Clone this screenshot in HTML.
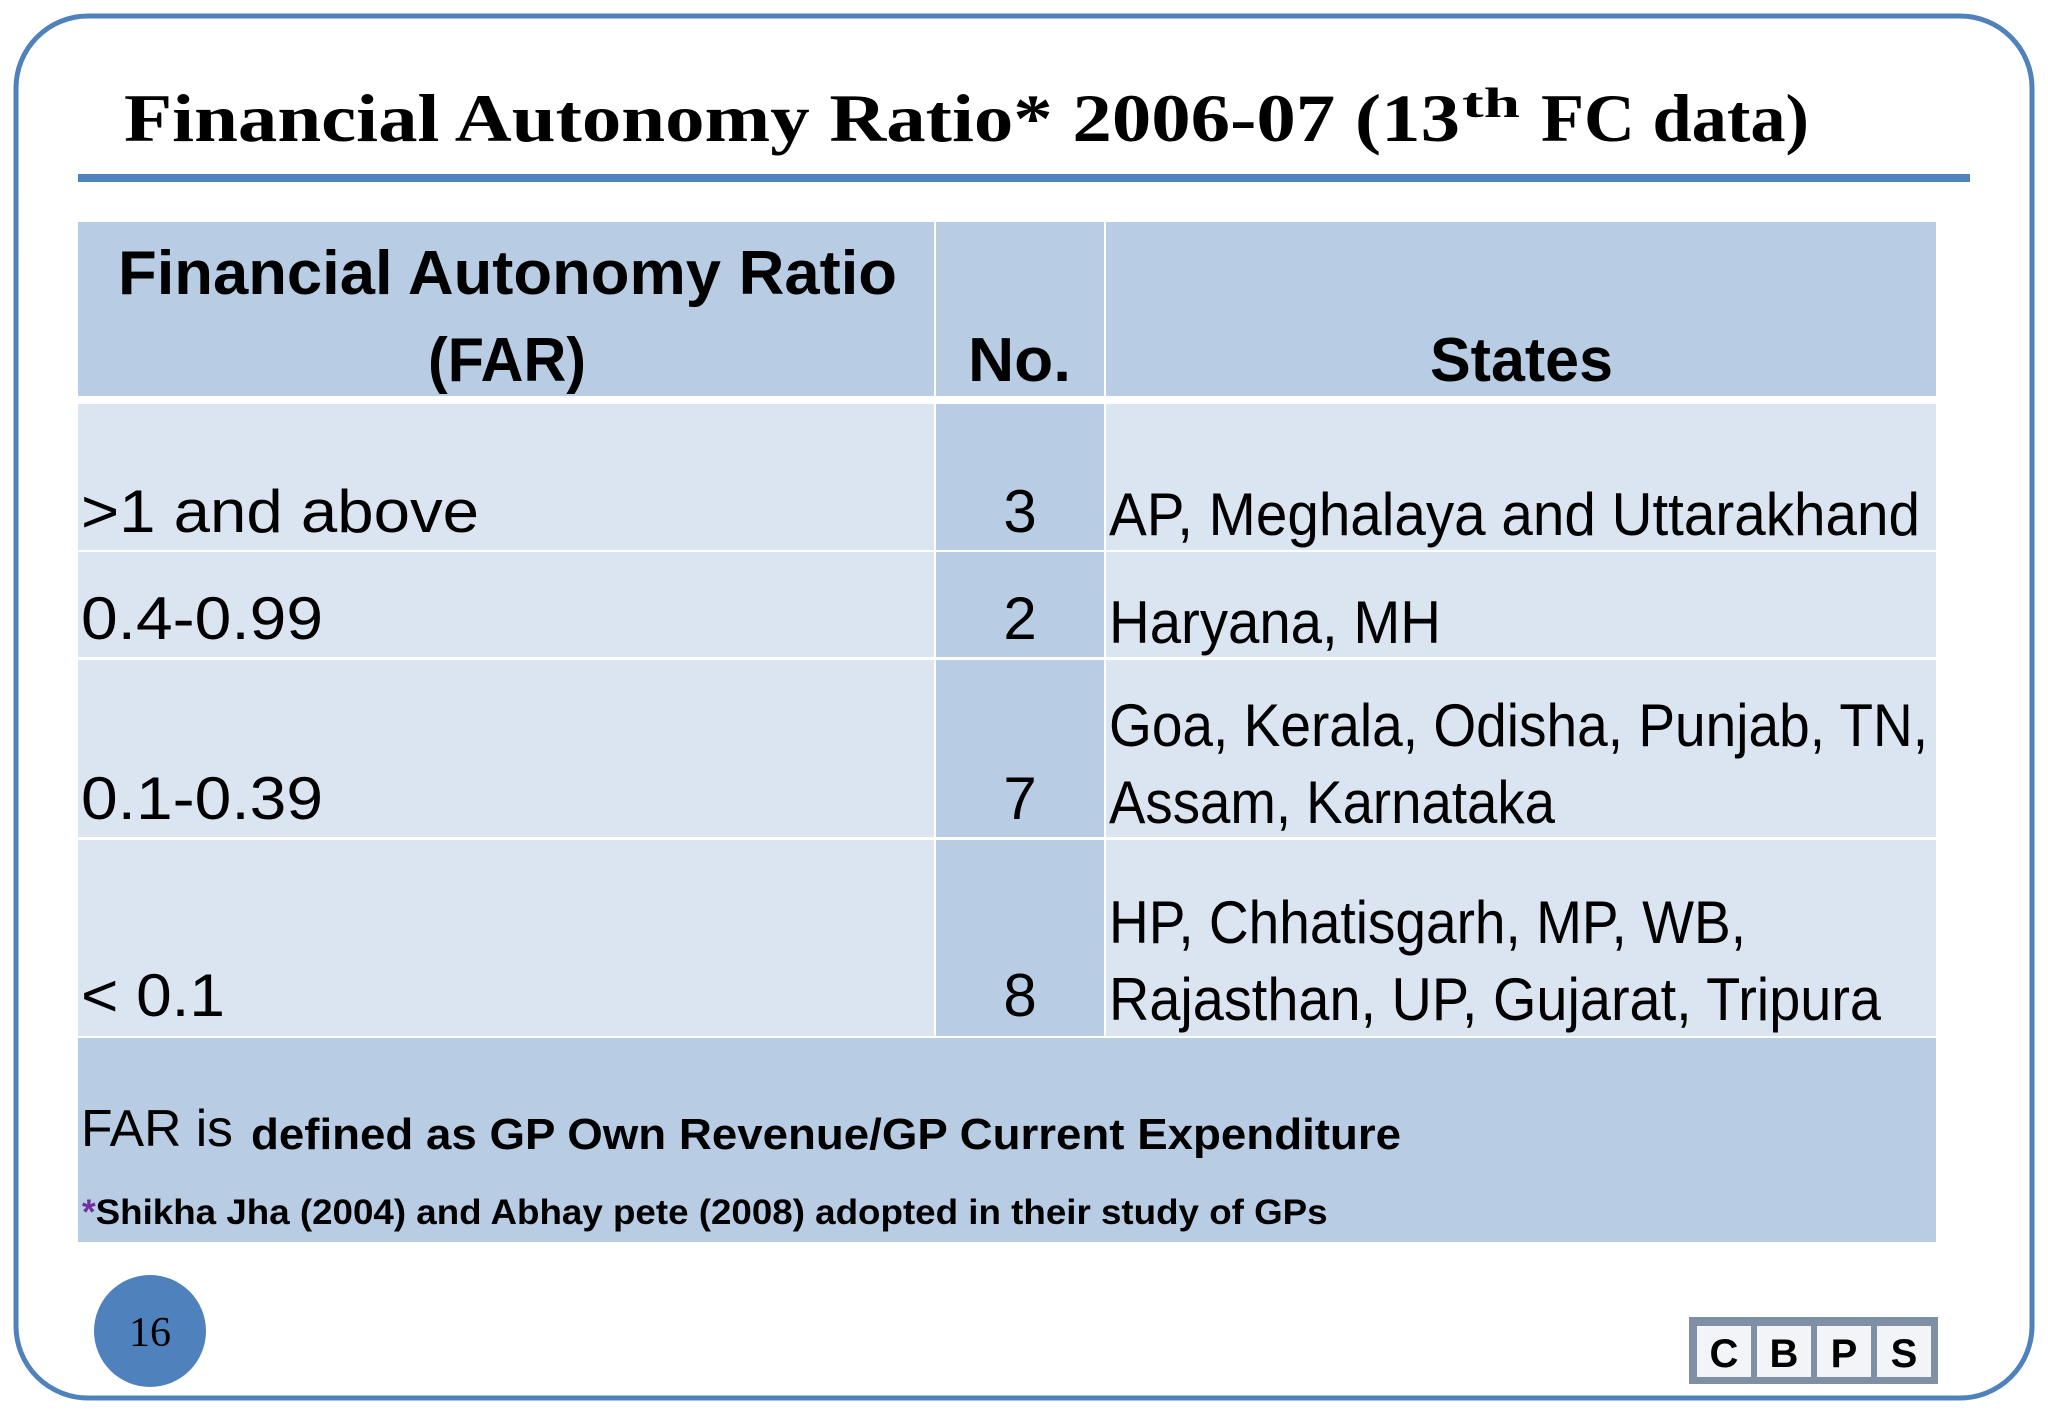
<!DOCTYPE html>
<html><head><meta charset="utf-8"><style>
html,body{margin:0;padding:0;background:#fff;}
svg{display:block;}
.s{font-family:"Liberation Sans",sans-serif;fill:#000;}
.r{font-family:"Liberation Serif",serif;fill:#000;}
</style></head><body>
<svg width="2048" height="1418" viewBox="0 0 2048 1418">
<rect x="16" y="16" width="2016" height="1382" rx="72" fill="#fff" stroke="#4f81bd" stroke-width="5"/>
<text class="r" y="141" font-size="68" font-weight="bold"><tspan x="124" textLength="1336" lengthAdjust="spacingAndGlyphs">Financial Autonomy Ratio*  2006-07 (13</tspan><tspan x="1462" y="117" font-size="42" textLength="58" lengthAdjust="spacingAndGlyphs">th</tspan><tspan x="1541" y="141" textLength="268" lengthAdjust="spacingAndGlyphs">FC data)</tspan></text>
<rect x="78" y="174" width="1892" height="8" fill="#4f81bd"/>
<g>
<rect x="78" y="222" width="856" height="174" fill="#b8cce4"/>
<rect x="936" y="222" width="168" height="174" fill="#b8cce4"/>
<rect x="1106" y="222" width="830" height="174" fill="#b8cce4"/>
<g fill="#dbe5f1">
<rect x="78" y="404" width="856" height="146"/><rect x="1106" y="404" width="830" height="146"/>
<rect x="78" y="552" width="856" height="105"/><rect x="1106" y="552" width="830" height="105"/>
<rect x="78" y="660" width="856" height="177"/><rect x="1106" y="660" width="830" height="177"/>
<rect x="78" y="840" width="856" height="196"/><rect x="1106" y="840" width="830" height="196"/>
</g>
<g fill="#b8cce4">
<rect x="936" y="404" width="168" height="146"/>
<rect x="936" y="552" width="168" height="105"/>
<rect x="936" y="660" width="168" height="177"/>
<rect x="936" y="840" width="168" height="196"/>
</g>
<rect x="78" y="1038" width="1858" height="204" fill="#b8cce4"/>
<text class="s" x="118" y="294" font-size="62" font-weight="bold" textLength="779" lengthAdjust="spacingAndGlyphs">Financial Autonomy Ratio</text>
<text class="s" x="428" y="381" font-size="62" font-weight="bold" textLength="158" lengthAdjust="spacingAndGlyphs">(FAR)</text>
<text class="s" x="968" y="381" font-size="62" font-weight="bold" textLength="103" lengthAdjust="spacingAndGlyphs">No.</text>
<text class="s" x="1430" y="381" font-size="62" font-weight="bold" textLength="183" lengthAdjust="spacingAndGlyphs">States</text>
<g class="s" font-size="60">
<text x="81" y="532" textLength="398" lengthAdjust="spacingAndGlyphs">&gt;1 and above</text>
<text x="1020" y="532" text-anchor="middle">3</text>
<text x="1109" y="535" textLength="811" lengthAdjust="spacingAndGlyphs">AP, Meghalaya and Uttarakhand</text>
<text x="81" y="639" textLength="242" lengthAdjust="spacingAndGlyphs">0.4-0.99</text>
<text x="1020" y="639" text-anchor="middle">2</text>
<text x="1109" y="643" textLength="332" lengthAdjust="spacingAndGlyphs">Haryana, MH</text>
<text x="81" y="819" textLength="242" lengthAdjust="spacingAndGlyphs">0.1-0.39</text>
<text x="1020" y="819" text-anchor="middle">7</text>
<text x="1109" y="746" textLength="819" lengthAdjust="spacingAndGlyphs">Goa, Kerala, Odisha, Punjab, TN,</text>
<text x="1109" y="823" textLength="446" lengthAdjust="spacingAndGlyphs">Assam, Karnataka</text>
<text x="81" y="1016" textLength="144" lengthAdjust="spacingAndGlyphs">&lt; 0.1</text>
<text x="1020" y="1016" text-anchor="middle">8</text>
<text x="1109" y="943" textLength="637" lengthAdjust="spacingAndGlyphs">HP, Chhatisgarh, MP, WB,</text>
<text x="1109" y="1020" textLength="772" lengthAdjust="spacingAndGlyphs">Rajasthan, UP, Gujarat, Tripura</text>
</g>
<text class="s" x="81" y="1146" font-size="52" textLength="152" lengthAdjust="spacingAndGlyphs">FAR is</text>
<text class="s" x="251" y="1149" font-size="44" font-weight="bold" textLength="1150" lengthAdjust="spacingAndGlyphs">defined as GP Own Revenue/GP Current Expenditure</text>
<text class="s" x="82" y="1224" font-size="35" font-weight="bold"><tspan fill="#7030a0">*</tspan><tspan textLength="1232" lengthAdjust="spacingAndGlyphs">Shikha Jha (2004) and Abhay pete (2008) adopted in their study  of GPs</tspan></text>
</g>
<circle cx="150" cy="1331" r="56" fill="#4f81bd"/>
<text class="r" x="150" y="1346" font-size="42" text-anchor="middle" fill="#111">16</text>
<g>
<rect x="1689" y="1317" width="249" height="67" fill="#7f90a6"/>
<rect x="1697" y="1326" width="54" height="51" fill="#f2f4f7"/>
<rect x="1757" y="1326" width="54" height="51" fill="#f2f4f7"/>
<rect x="1817" y="1326" width="54" height="51" fill="#f2f4f7"/>
<rect x="1877" y="1326" width="54" height="51" fill="#f2f4f7"/>
<g class="s" font-size="40" font-weight="bold" text-anchor="middle" fill="#222">
<text x="1724" y="1367">C</text><text x="1784" y="1367">B</text><text x="1844" y="1367">P</text><text x="1904" y="1367">S</text>
</g>
</g>
</svg>
</body></html>
